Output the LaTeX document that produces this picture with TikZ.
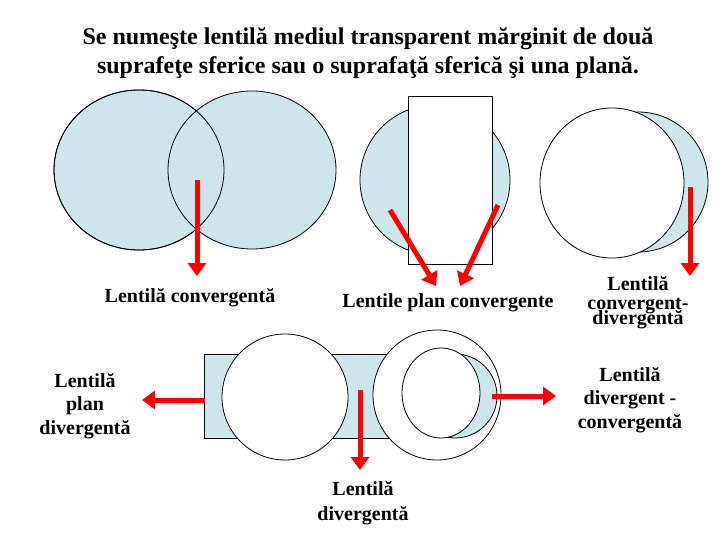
\documentclass[tikz,border=0pt]{standalone}
\usepackage{fontspec}
\setmainfont{Liberation Serif}
\usetikzlibrary{arrows.meta}
\definecolor{lb}{RGB}{205,230,235}
\tikzset{sh/.style={fill=lb,draw=black,line width=0.8pt},
wh/.style={fill=white,draw=black,line width=0.8pt},
ra/.style={draw=red,line width=5pt,-{Triangle[length=13pt,width=18pt]}},
lab/.style={font=\fontsize{20}{22}\selectfont\bfseries,align=center}}
\begin{document}
\begin{tikzpicture}[x=1pt,y=-1pt]
\useasboundingbox (0,0) rectangle (720,540);
\node[font=\fontsize{24}{29}\selectfont\bfseries,align=center] (t) at (368,53) {Se numeşte lentilă mediul transparent mărginit de două\\suprafeţe sferice sau o suprafaţă sferică şi una plană.};
% top left
\path[sh] (139,170) ellipse [x radius=85,y radius=80];
\path[sh] (252,170) ellipse [x radius=84,y radius=79];
\draw[line width=0.8pt] (139,170) ellipse [x radius=85,y radius=80];
\coordinate (a1) at (197,180); \coordinate (b1) at (197,276);
\draw[ra] (a1) -- (b1);
% top middle
\path[sh] (435,180) circle (75);
\path[wh] (408,96) rectangle (492,264);
\coordinate (a2) at (390,210); \coordinate (b2) at (436,286);
\coordinate (a3) at (498,205); \coordinate (b3) at (460,286);
\draw[ra] (a2) -- (b2); \draw[ra] (a3) -- (b3);
% top right
\path[sh] (638,182) circle (70);
\path[wh] (612,183) ellipse [x radius=72,y radius=75];
\coordinate (a4) at (690,187); \coordinate (b4) at (690,276);
\draw[ra] (a4) -- (b4);
% bottom
\path[sh] (204,354) rectangle (480,438);
\path[wh] (285,397) circle (63);
\path[wh] (437,395) ellipse [x radius=64,y radius=65];
\path[sh] (455,396) circle (42);
\path[wh] (441,393) ellipse [x radius=39,y radius=45];
\coordinate (a5) at (205,400); \coordinate (b5) at (142,400);
\coordinate (a6) at (360,390); \coordinate (b6) at (360,470);
\coordinate (a7) at (492,396); \coordinate (b7) at (556,396);
\draw[ra] (a5) -- (b5); \draw[ra] (a6) -- (b6); \draw[ra] (a7) -- (b7);
% labels
\node[lab] (l1) at (190,298) {Lentilă convergentă};
\node[lab] (l2) at (448,303) {Lentile plan convergente};
\node[lab] (l3a) at (638,284) {Lentilă};
\node[lab] (l3b) at (638,306) {convergent-};
\node[lab] (l3c) at (638,320) {divergentă};
\node[lab,font=\fontsize{20}{23.5}\selectfont\bfseries] (l4) at (85,406) {Lentilă\\plan\\divergentă};
\node[lab,font=\fontsize{20}{23.5}\selectfont\bfseries] (l5) at (630,400) {Lentilă\\divergent -\\convergentă};
\node[lab,font=\fontsize{20}{25}\selectfont\bfseries] (l6) at (363,503) {Lentilă\\divergentă};
\end{tikzpicture}
\end{document}
